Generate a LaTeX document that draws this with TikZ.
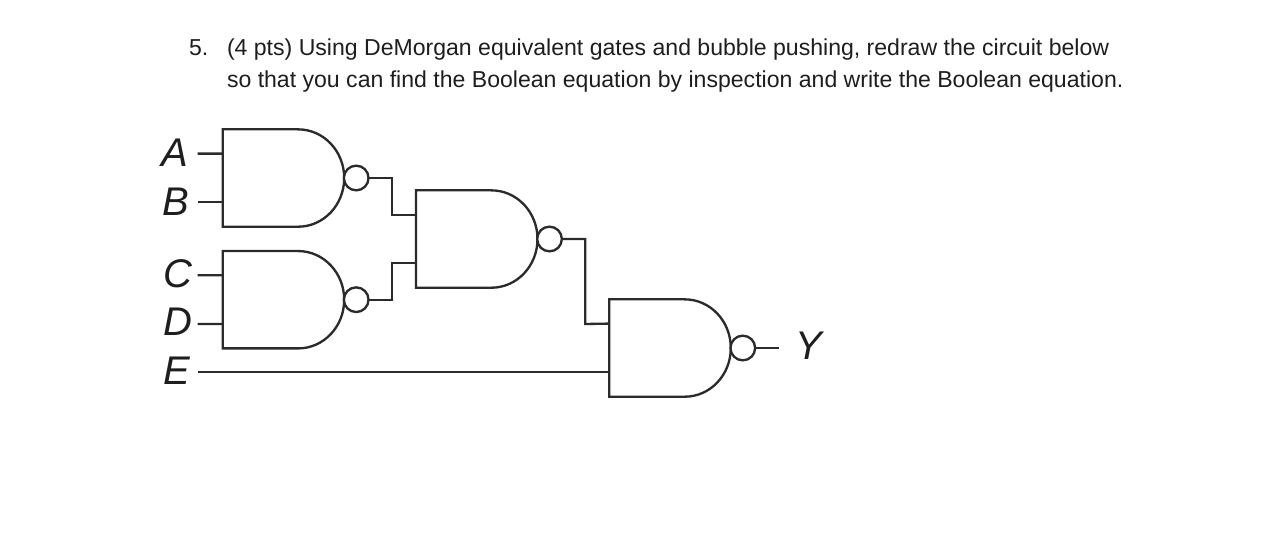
\documentclass[tikz,border=0pt]{standalone}
\usepackage{fontspec}
\setmainfont{Liberation Sans}
\definecolor{ink}{HTML}{2B2B2B}
\definecolor{txt}{HTML}{1E1E1E}
\tikzset{
  wire/.style={draw=ink,line width=1.75pt,line cap=butt,line join=miter},
  bubble/.style={circle,draw=ink,line width=1.75pt,fill=white,minimum size=18.5pt,inner sep=0pt,outer sep=0pt},
  siglabel/.style={inner sep=0pt,outer sep=0pt,text=txt,font=\fontsize{30}{30}\selectfont\itshape},
  question/.style={inner sep=0pt,outer sep=0pt,anchor=base west,text=txt,font=\fontsize{17.3}{20}\selectfont},
  nandgate/.pic={
    \draw[wire] (75.5,-48.7) -- (0,-48.7) -- (0,48.7) -- (75.5,48.7)
      arc[start angle=-90,end angle=90,x radius=34.5pt,y radius=36.5pt] -- cycle;
    \node[bubble] (-bub) at (133.5,0) {};
    \coordinate (-a) at (0,-24.4);
    \coordinate (-b) at (0,24.3);
  }
}
\begin{document}
\begin{tikzpicture}[x=0.75pt,y=-0.75pt]
\useasboundingbox (0,0) rectangle (1284,549);
\fill[white] (0,0) rectangle (1284,549);
% question
\node[question] (q1) at (189,56) {5.};
\node[question] (q2) at (227,56) {(4 pts) Using DeMorgan equivalent gates and bubble pushing, redraw the circuit below};
\node[question] (q3) at (227,88) {so that you can find the Boolean equation by inspection and write the Boolean equation.};
% gates
\pic (g1) at (222.7,178) {nandgate};
\pic (g2) at (222.7,299.7) {nandgate};
\pic (g3) at (416,239) {nandgate};
\pic (g4) at (609.3,348) {nandgate};
% labels
\node[siglabel] (lA) at (175,153) {A};
\node[siglabel] (lB) at (176,202) {B};
\node[siglabel] (lC) at (178,274) {C};
\node[siglabel] (lD) at (178,322) {D};
\node[siglabel] (lE) at (177,371) {E};
\node[siglabel] (lY) at (809,346) {Y};
% input stubs
\coordinate (wA) at (197.7,153.6);
\coordinate (wB) at (197.7,202.3);
\coordinate (wC) at (197.7,275.3);
\coordinate (wD) at (197.7,324);
\coordinate (wE) at (197.7,372.3);
\coordinate (wY) at (779.3,348);
\draw[wire] (wA) -- (g1-a);
\draw[wire] (wB) -- (g1-b);
\draw[wire] (wC) -- (g2-a);
\draw[wire] (wD) -- (g2-b);
\draw[wire] (wE) -- (g4-b);
% connectors
\draw[wire] (g1-bub.east) -| (392,215) -- (g3-a |- 0,215);
\draw[wire] (g2-bub.east) -| (392,263.3) -- (g3-b |- 0,263.3);
\draw[wire] (g3-bub.east) -| (585.3,324) -- (g4-a);
\draw[wire] (g4-bub.east) -- (wY);
\end{tikzpicture}
\end{document}
